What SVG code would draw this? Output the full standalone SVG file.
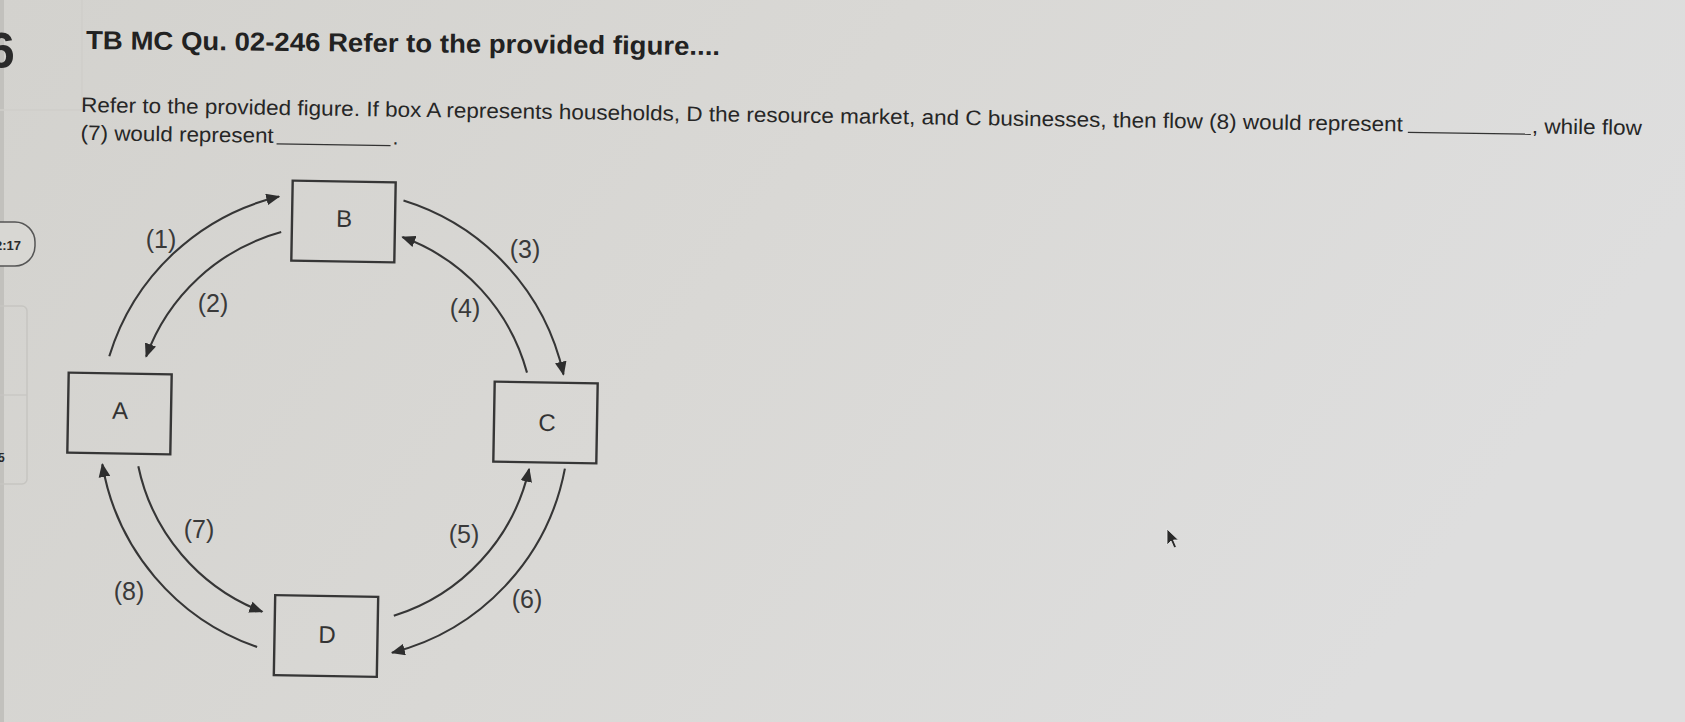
<svg xmlns="http://www.w3.org/2000/svg" width="1685" height="722" viewBox="0 0 1685 722">
<defs>
<linearGradient id="bg" x1="0" y1="0" x2="1" y2="0.3">
<stop offset="0" stop-color="#d3d2ce"/>
<stop offset="0.5" stop-color="#d9d8d5"/>
<stop offset="1" stop-color="#dedede"/>
</linearGradient>
<marker id="ah" viewBox="0 0 12 10" refX="11" refY="5" markerWidth="14" markerHeight="12" markerUnits="userSpaceOnUse" orient="auto">
<path d="M0,0 L12,5 L0,10 Z" fill="#2e2e2e"/>
</marker>
<style>
.title{font-family:"Liberation Sans",Arial,sans-serif;font-weight:bold;font-size:26px;fill:#222}
.para{font-family:"Liberation Sans",Arial,sans-serif;font-size:21px;fill:#262626}
.blank{stroke:#333;stroke-width:1.3}
.box{fill:none;stroke:#363636;stroke-width:2.4}
.letter{font-family:"Liberation Sans",Arial,sans-serif;font-size:24px;fill:#333;text-anchor:middle}
.flow{fill:none;stroke:#363636;stroke-width:2.1;marker-end:url(#ah)}
.lbl{font-family:"Liberation Sans",Arial,sans-serif;font-size:25px;fill:#3a3a3a;text-anchor:middle}
.ui{font-family:"Liberation Sans",Arial,sans-serif;font-weight:bold;fill:#2a2a2a}
</style>
</defs>
<rect x="0" y="0" width="1685" height="722" fill="url(#bg)"/>
<g id="ui-left">
<rect x="0" y="0" width="4" height="722" fill="#c2c1bd"/>
<rect x="-10" y="-10" width="92" height="120" fill="none" stroke="#cfceca" stroke-width="1.5"/>
<text class="ui" x="-13" y="68" font-size="50">6</text>
<rect x="-20" y="222" width="55" height="44" rx="20" fill="#d8d7d3" stroke="#555" stroke-width="1.5"/>
<text class="ui" x="-5" y="250" font-size="13">2:17</text>
<rect x="-10" y="306" width="37" height="178" rx="5" fill="none" stroke="#c6c5c1" stroke-width="1.5"/>
<line x1="0" y1="395" x2="27" y2="395" stroke="#c6c5c1" stroke-width="1.2"/>
<text class="ui" x="-2" y="462" font-size="12" font-weight="normal">5</text>
</g>
<g id="question">
<text class="title" x="86" y="49" transform="rotate(0.55 86 49)" textLength="634" lengthAdjust="spacingAndGlyphs">TB MC Qu. 02-246 Refer to the provided figure....</text>
<g transform="rotate(0.84 81 112)">
<text class="para" x="81" y="112" textLength="1322" lengthAdjust="spacingAndGlyphs">Refer to the provided figure. If box A represents households, D the resource market, and C businesses, then flow (8) would represent</text>
<line class="blank" x1="1408" y1="113" x2="1531" y2="113"/>
<text class="para" x="1532" y="112" textLength="110" lengthAdjust="spacingAndGlyphs">, while flow</text>
<text class="para" x="81" y="140" textLength="193" lengthAdjust="spacingAndGlyphs">(7) would represent</text>
<line class="blank" x1="277" y1="141" x2="391" y2="141"/>
<text class="para" x="393" y="140">.</text>
</g>
</g>
<g id="connectors">
<path class="flow" d="M109.3,356.3 A235,235 0 0,1 279.1,196.5"/>
<path class="flow" d="M281.2,232.1 A200,200 0 0,0 146.1,356.6"/>
<path class="flow" d="M403.5,200.5 A235,235 0 0,1 563.5,374.5"/>
<path class="flow" d="M527,372.6 A200,200 0 0,0 402.4,237.1"/>
<path class="flow" d="M393.8,615.8 A200,200 0 0,0 529.1,469"/>
<path class="flow" d="M564.9,468.6 A235,235 0 0,1 392,652.7"/>
<path class="flow" d="M138.3,466.2 A200,200 0 0,0 262.3,611.7"/>
<path class="flow" d="M257.1,647 A235,235 0 0,1 102.3,464.2"/>
<text class="lbl" x="161" y="248">(1)</text>
<text class="lbl" x="213" y="312">(2)</text>
<text class="lbl" x="525" y="258">(3)</text>
<text class="lbl" x="465" y="317">(4)</text>
<text class="lbl" x="464" y="543">(5)</text>
<text class="lbl" x="527" y="608">(6)</text>
<text class="lbl" x="199" y="538">(7)</text>
<text class="lbl" x="129" y="600">(8)</text>
</g>
<g id="node-A" transform="rotate(1 119.5 413.5)">
<rect class="box" x="68" y="373.5" width="103" height="80"/>
<text class="letter" x="120" y="419">A</text>
</g>
<g id="node-B" transform="rotate(1 343.5 221.5)">
<rect class="box" x="292" y="181.5" width="103" height="80"/>
<text class="letter" x="344" y="227">B</text>
</g>
<g id="node-C" transform="rotate(1 545.5 422.5)">
<rect class="box" x="494" y="382.5" width="103" height="80"/>
<text class="letter" x="547" y="431">C</text>
</g>
<g id="node-D" transform="rotate(1 326 636)">
<rect class="box" x="274.5" y="596" width="103" height="80"/>
<text class="letter" x="327" y="643">D</text>
</g>
<g id="cursor" transform="translate(1167 529)">
<path d="M0,0 L0,16 L4,12 L7,19 L9.5,18 L6.5,11 L11.5,11 Z" fill="#2a2a2a" stroke="#eee" stroke-width="0.8"/>
</g>
</svg>
